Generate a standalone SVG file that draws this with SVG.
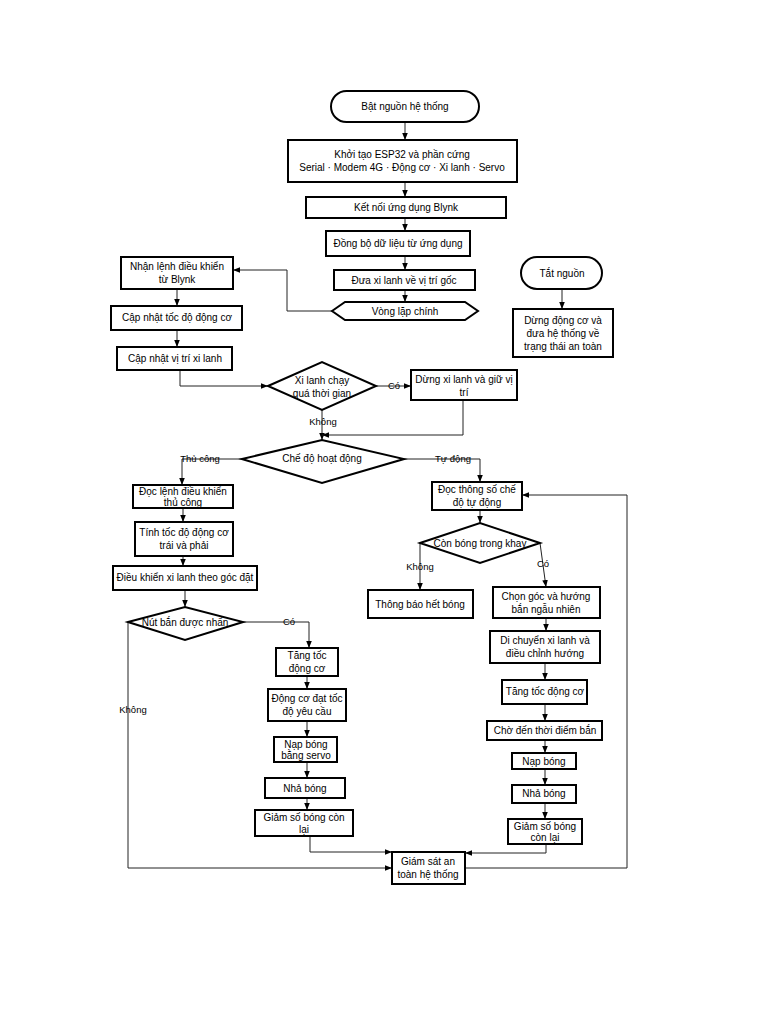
<svg xmlns="http://www.w3.org/2000/svg" width="768" height="1024" viewBox="0 0 768 1024">
<style>
.n{fill:#fff;stroke:#000;stroke-width:2}
text{font-family:"Liberation Sans",Arial,sans-serif;font-size:10px;fill:#000;text-anchor:middle}
.c{fill:none;stroke:#222;stroke-width:1}
.l{font-size:9.5px}
</style>
<defs><marker id="a" viewBox="0 0 10 10" refX="10" refY="5" markerWidth="7" markerHeight="7" orient="auto"><path d="M0,1 L10,5 L0,9 z" fill="#000"/></marker></defs>
<rect width="768" height="1024" fill="#fff"/>
<g id="connectors">
<path class="c" marker-end="url(#a)" d="M405,122 V140"/>
<path class="c" marker-end="url(#a)" d="M405,182 V197"/>
<path class="c" marker-end="url(#a)" d="M405,218 V231"/>
<path class="c" marker-end="url(#a)" d="M405,256 V270"/>
<path class="c" marker-end="url(#a)" d="M405,290 V302"/>
<path class="c" marker-end="url(#a)" d="M332,311 H287 V270 H233"/>
<path class="c" marker-end="url(#a)" d="M177,289 V306"/>
<path class="c" marker-end="url(#a)" d="M177,330 V347"/>
<path class="c" marker-end="url(#a)" d="M180,370 V386 H268"/>
<path class="c" marker-end="url(#a)" d="M376,386 H411"/>
<path class="c" marker-end="url(#a)" d="M322,410 V440"/>
<path class="c" marker-end="url(#a)" d="M463,400 V435 H322"/>
<path class="c" marker-end="url(#a)" d="M562,289 V309"/>
<path class="c" marker-end="url(#a)" d="M242,459 H182 V485"/>
<path class="c" marker-end="url(#a)" d="M404,459 H480 V482"/>
<path class="c" marker-end="url(#a)" d="M183,508 V522"/>
<path class="c" marker-end="url(#a)" d="M183,556 V566"/>
<path class="c" marker-end="url(#a)" d="M185,590 V607"/>
<path class="c" marker-end="url(#a)" d="M243,622 H309 V648"/>
<path class="c" marker-end="url(#a)" d="M128,622 V868 H392"/>
<path class="c" marker-end="url(#a)" d="M307,676 V689"/>
<path class="c" marker-end="url(#a)" d="M307,721 V737"/>
<path class="c" marker-end="url(#a)" d="M307,762 V778"/>
<path class="c" marker-end="url(#a)" d="M307,798 V810"/>
<path class="c" marker-end="url(#a)" d="M310,836 V852 H392"/>
<path class="c" marker-end="url(#a)" d="M480,510 V523"/>
<path class="c" marker-end="url(#a)" d="M420,543 V590"/>
<path class="c" marker-end="url(#a)" d="M540,543 L546,587"/>
<path class="c" marker-end="url(#a)" d="M546,618 V631"/>
<path class="c" marker-end="url(#a)" d="M545,663 V680"/>
<path class="c" marker-end="url(#a)" d="M545,704 V721"/>
<path class="c" marker-end="url(#a)" d="M545,740 V753"/>
<path class="c" marker-end="url(#a)" d="M545,769 V785"/>
<path class="c" marker-end="url(#a)" d="M545,803 V819"/>
<path class="c" marker-end="url(#a)" d="M546,844 V853 H465"/>
<path class="c" marker-end="url(#a)" d="M465,868 H627 V495 H522"/>
<text class="l" x="394" y="389">Có</text>
<text class="l" x="323" y="425">Không</text>
<text class="l" x="200" y="462">Thủ công</text>
<text class="l" x="453" y="462">Tự động</text>
<text class="l" x="289" y="625">Có</text>
<text class="l" x="133" y="713">Không</text>
<text class="l" x="420" y="570">Không</text>
<text class="l" x="543" y="567">Có</text>
</g>
<g id="start"><rect class="n" x="331" y="91" width="148" height="31" rx="15.5"/><text x="405" y="110">Bật nguồn hệ thống</text></g>
<g id="init"><rect class="n" x="288" y="140" width="229" height="42"/><text x="402" y="158">Khởi tạo ESP32 và phần cứng</text><text x="402" y="171">Serial · Modem 4G · Động cơ · Xi lanh · Servo</text></g>
<g id="blynk"><rect class="n" x="306" y="197" width="200" height="21"/><text x="406" y="211">Kết nối ứng dụng Blynk</text></g>
<g id="sync"><rect class="n" x="326" y="231" width="144" height="25"/><text x="398" y="247">Đồng bộ dữ liệu từ ứng dụng</text></g>
<g id="home"><rect class="n" x="334" y="270" width="141" height="20"/><text x="404" y="284">Đưa xi lanh về vị trí gốc</text></g>
<g id="loop"><polygon class="n" points="332,311 345,302 465,302 478,311 465,320 345,320"/><text x="405" y="315">Vòng lặp chính</text></g>
<g id="recv"><rect class="n" x="121" y="257" width="112" height="32"/><text x="177" y="270">Nhận lệnh điều khiển</text><text x="177" y="283">từ Blynk</text></g>
<g id="spd"><rect class="n" x="111" y="306" width="131" height="24"/><text x="177" y="321">Cập nhật tốc độ động cơ</text></g>
<g id="pos"><rect class="n" x="117" y="347" width="115" height="23"/><text x="175" y="362">Cập nhật vị trí xi lanh</text></g>
<g id="timeout"><polygon class="n" points="268,386 322,362 376,386 322,410"/><text x="322" y="384">Xi lanh chạy</text><text x="322" y="397">quá thời gian</text></g>
<g id="stopcyl"><rect class="n" x="411" y="370" width="106" height="30"/><text x="464" y="383">Dừng xi lanh và giữ vị</text><text x="464" y="396">trí</text></g>
<g id="off"><rect class="n" x="521" y="257" width="81" height="32" rx="16"/><text x="562" y="277">Tắt nguồn</text></g>
<g id="safe"><rect class="n" x="513" y="309" width="100" height="48"/><text x="563" y="324">Dừng động cơ và</text><text x="563" y="337">đưa hệ thống về</text><text x="563" y="350">trạng thái an toàn</text></g>
<g id="mode"><polygon class="n" points="242,459 322,440 404,459 322,483"/><text x="322" y="462">Chế độ hoạt động</text></g>
<g id="m1"><rect class="n" x="133" y="485" width="100" height="23"/><text x="183" y="495">Đọc lệnh điều khiển</text><text x="183" y="506">thủ công</text></g>
<g id="m2"><rect class="n" x="135" y="522" width="98" height="34"/><text x="184" y="536">Tính tốc độ động cơ</text><text x="184" y="549">trái và phải</text></g>
<g id="m3"><rect class="n" x="113" y="566" width="144" height="24"/><text x="185" y="581">Điều khiển xi lanh theo góc đặt</text></g>
<g id="fire"><polygon class="n" points="128,622 185,607 243,622 185,640"/><text x="185" y="626">Nút bắn được nhấn</text></g>
<g id="f1"><rect class="n" x="276" y="648" width="62" height="28"/><text x="307" y="659">Tăng tốc</text><text x="307" y="672">động cơ</text></g>
<g id="f2"><rect class="n" x="268" y="689" width="78" height="32"/><text x="307" y="702">Động cơ đạt tốc</text><text x="307" y="715">độ yêu cầu</text></g>
<g id="f3"><rect class="n" x="274" y="737" width="63" height="25"/><text x="306" y="748">Nạp bóng</text><text x="306" y="759">bằng servo</text></g>
<g id="f4"><rect class="n" x="265" y="778" width="80" height="20"/><text x="305" y="792">Nhả bóng</text></g>
<g id="f5"><rect class="n" x="255" y="810" width="98" height="26"/><text x="304" y="821">Giảm số bóng còn</text><text x="304" y="833">lại</text></g>
<g id="monitor"><rect class="n" x="392" y="852" width="73" height="32"/><text x="428" y="865">Giám sát an</text><text x="428" y="878">toàn hệ thống</text></g>
<g id="a1"><rect class="n" x="432" y="482" width="90" height="28"/><text x="477" y="493">Đọc thông số chế</text><text x="477" y="506">độ tự động</text></g>
<g id="balls"><polygon class="n" points="420,543 480,523 540,543 480,563"/><text x="480" y="547">Còn bóng trong khay</text></g>
<g id="empty"><rect class="n" x="368" y="590" width="105" height="28"/><text x="420" y="608">Thông báo hết bóng</text></g>
<g id="a2"><rect class="n" x="493" y="587" width="107" height="31"/><text x="546" y="600">Chọn góc và hướng</text><text x="546" y="613">bắn ngẫu nhiên</text></g>
<g id="a3"><rect class="n" x="490" y="631" width="110" height="32"/><text x="545" y="644">Di chuyển xi lanh và</text><text x="545" y="657">điều chỉnh hướng</text></g>
<g id="a4"><rect class="n" x="502" y="680" width="85" height="24"/><text x="545" y="695">Tăng tốc động cơ</text></g>
<g id="a5"><rect class="n" x="487" y="721" width="115" height="19"/><text x="545" y="734">Chờ đến thời điểm bắn</text></g>
<g id="a6"><rect class="n" x="512" y="753" width="64" height="16"/><text x="544" y="765">Nạp bóng</text></g>
<g id="a7"><rect class="n" x="512" y="785" width="64" height="18"/><text x="544" y="797">Nhả bóng</text></g>
<g id="a8"><rect class="n" x="508" y="819" width="74" height="25"/><text x="545" y="830">Giảm số bóng</text><text x="545" y="841">còn lại</text></g>
</svg>
